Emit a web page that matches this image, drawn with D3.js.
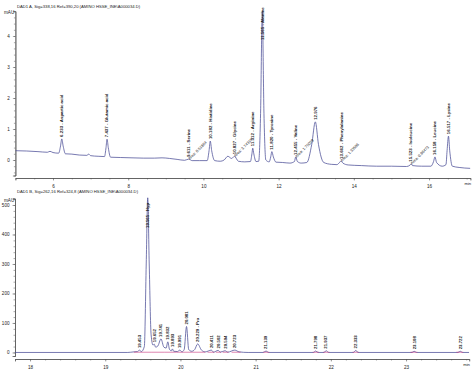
<!DOCTYPE html>
<html>
<head>
<meta charset="utf-8">
<script src="https://cdn.jsdelivr.net/npm/d3@7"></script>
<style>
  body { margin: 0; background: #fff; }
  svg { display: block; font-family: "Liberation Sans", Arial, sans-serif; }
  text { fill: #222; }
</style>
</head>
<body>
<svg></svg>
<script>
const width = 474;
const height = 375;

// ---- top signal (DAD1 A) ----
const topTitle = "DAD1 A, Sig=338,16 Ref=390,20 (AMINO HSSE_INE\\A000034.D)";
const topTimes = [5.00,5.30,5.60,5.85,5.92,6.00,6.15,6.20,6.233,6.27,6.33,6.50,6.70,6.90,6.95,7.00,7.20,7.37,7.41,7.437,7.47,7.53,7.80,8.10,8.40,8.70,8.90,9.10,9.30,9.50,9.611,9.70,9.90,10.10,10.15,10.182,10.22,10.30,10.45,10.55,10.65,10.75,10.827,10.93,11.10,11.25,11.29,11.312,11.34,11.40,11.47,11.52,11.565,11.61,11.66,11.75,11.79,11.82,11.86,11.93,12.10,12.30,12.42,12.455,12.50,12.60,12.75,12.88,12.976,13.06,13.20,13.40,13.55,13.62,13.662,13.71,13.85,14.20,14.60,15.00,15.40,15.49,15.523,15.56,15.80,16.05,16.12,16.158,16.20,16.35,16.45,16.48,16.517,16.55,16.62,16.80,17.10];
const topValues = [0.30,0.29,0.27,0.25,0.28,0.24,0.22,0.45,0.68,0.45,0.20,0.19,0.16,0.15,0.19,0.14,0.12,0.11,0.40,0.67,0.40,0.09,0.08,0.07,0.06,0.06,0.07,0.05,0.02,-0.01,0.03,-0.02,-0.02,-0.02,0.30,0.61,0.30,-0.02,-0.04,0.00,0.12,0.05,0.12,-0.04,-0.06,-0.05,0.20,0.38,0.20,-0.05,-0.04,1.50,4.80,1.50,0.00,-0.06,0.10,0.27,0.10,-0.07,-0.08,-0.10,-0.05,0.10,-0.05,-0.10,-0.08,0.50,1.23,0.50,-0.08,-0.14,-0.15,-0.08,-0.03,-0.10,-0.16,-0.18,-0.20,-0.20,-0.21,-0.17,-0.12,-0.18,-0.20,-0.20,-0.05,0.10,-0.08,-0.20,-0.15,0.30,0.77,0.30,-0.20,-0.24,-0.27];
const topPeakTimes = [6.233,7.437,9.611,10.182,10.827,11.312,11.565,11.82,12.455,12.976,13.662,15.523,16.158,16.517];
const topPeakLabels = ["6.233 - Aspartic acid","7.437 - Glutamic acid","9.611 - Serine","10.182 - Histidine","10.827 - Glycine","11.312 - Arginine","11.565 - Alanine","11.820 - Tyrosine","12.455 - Valine","12.976","13.662 - Phenylalanine","15.523 - Isoleucine","16.158 - Leucine","16.517 - Lysine"];
const topAreaTimes = [9.611,10.827,12.455,13.662,15.523];
const topAreaLabels = ["Area: 0.51864","Area: 3.74315","Area: 1.75029","Area: 1.33586","Area: 0.86473"];
const topYTicks = [0,1,2,3,4];
const topXTicks = [6,8,10,12,14,16];

// ---- bottom signal (DAD1 B) ----
const botTitle = "DAD1 B, Sig=262,16 Ref=324,8 (AMINO HSSE_INE\\A000034.D)";
const botTimes = [17.80,19.30,19.38,19.43,19.453,19.48,19.52,19.545,19.565,19.585,19.61,19.635,19.652,19.67,19.70,19.741,19.78,19.81,19.832,19.855,19.88,19.893,19.91,19.96,19.991,20.02,20.05,20.081,20.11,20.15,20.19,20.229,20.28,20.33,20.411,20.44,20.502,20.53,20.594,20.63,20.723,20.78,20.90,21.10,21.139,21.17,21.77,21.798,21.83,21.91,21.937,21.97,22.30,22.333,22.36,23.08,23.108,23.14,23.69,23.722,23.75,23.84];
const botValues = [0,0,2,3,8,3,20,300,525,300,60,25,28,18,22,46,18,15,36,10,6,12,4,3,8,2,10,88,10,4,10,29,8,2,8,1,7,1,6,1,8,2,0,0,5,0,0,5,0,0,6,0,0,7,0,0,4,0,0,4,0,0];
const botPeakTimes = [19.453,19.565,19.652,19.741,19.832,19.893,19.991,20.081,20.229,20.411,20.502,20.594,20.723,21.139,21.798,21.937,22.333,23.108,23.722];
const botPeakLabels = ["19.453","19.565 - Hyp","19.652","19.741","19.832","19.893","19.991","20.081","20.229 - Pro","20.411","20.502","20.594","20.723","21.139","21.798","21.937","22.333","23.108","23.722"];
const botBaseStart = [19.38,19.62,19.79,19.95,20.03,20.16,20.36,20.47,20.56,20.68,21.10,21.76,21.90,22.29,23.06,23.67];
const botBaseEnd = [19.62,19.79,19.95,20.03,20.16,20.33,20.45,20.54,20.64,20.80,21.18,21.84,21.98,22.37,23.15,23.76];
const botYTicks = [0,100,200,300,400,500];
const botXTicks = [18,19,20,21,22,23];

const traceColor = "#4a4c96";
const baseColor = "#c8327a";

let svg = d3.select("svg").attr("width", width).attr("height", height);

// draws one chromatogram panel
let panel = ({title, times, values, peakTimes, peakLabels, yDomain, yRange, xDomain, xRange,
              axisY, yTicks, yMinor, xTicks, xMinor, titleY, clipId, labelMinY, labelSize}) => {
    let x = d3.scaleLinear().domain(xDomain).range(xRange);
    let y = d3.scaleLinear().domain(yDomain).range(yRange);
    let g = svg.append("g");

    g.append("text").attr("x", 17).attr("y", titleY)
        .attr("font-size", 4.2).text(title);

    // y axis, major + minor ticks
    let minorY = d3.range(Math.ceil(yDomain[0] / yMinor), Math.floor(yDomain[1] / yMinor) + 1)
        .map(k => +(k * yMinor).toFixed(3));
    let ya = g.append("g").attr("transform", `translate(${xRange[0]},0)`)
        .call(d3.axisLeft(y).tickValues(yTicks).tickSize(2.5).tickFormat(d3.format("d")));
    ya.append("g").call(d3.axisLeft(y).tickValues(minorY).tickSize(1.5).tickFormat(""));
    ya.selectAll(".domain").attr("stroke", "#555").attr("stroke-width", 0.7);
    ya.selectAll(".tick line").attr("stroke", "#555").attr("stroke-width", 0.5);
    ya.selectAll(".tick text").attr("font-size", 4.6).attr("fill", "#222");
    g.append("text").attr("x", 4).attr("y", yRange[1] + 3).attr("font-size", 4.6).text("mAU");

    // x axis
    let minorX = d3.range(Math.ceil(xDomain[0] / xMinor), Math.floor(xDomain[1] / xMinor) + 1)
        .map(k => +(k * xMinor).toFixed(3));
    let xa = g.append("g").attr("transform", `translate(0,${axisY})`)
        .call(d3.axisBottom(x).tickValues(xTicks).tickSize(2.5).tickFormat(d3.format("d")));
    xa.append("g").call(d3.axisBottom(x).tickValues(minorX).tickSize(1.5).tickFormat(""));
    xa.selectAll(".domain").attr("stroke", "#555").attr("stroke-width", 0.7);
    xa.selectAll(".tick line").attr("stroke", "#555").attr("stroke-width", 0.5);
    xa.selectAll(".tick text").attr("font-size", 4.6).attr("fill", "#222").attr("dy", "0.9em");
    g.append("text").attr("x", xRange[1] - 6).attr("y", axisY + 7).attr("font-size", 4.2).text("min");

    // trace, clipped to the plot
    svg.append("clipPath").attr("id", clipId).append("rect")
        .attr("x", xRange[0]).attr("y", yRange[1] - 1)
        .attr("width", xRange[1] - xRange[0]).attr("height", axisY - yRange[1] + 1);
    let line = d3.line().x(d => x(d[0])).y(d => y(d[1])).curve(d3.curveMonotoneX);
    g.append("path").datum(times.map((t, i) => [t, values[i]]))
        .attr("clip-path", `url(#${clipId})`)
        .attr("fill", "none").attr("stroke", traceColor).attr("stroke-width", 0.75)
        .attr("d", line);

    // vertical peak labels
    g.selectAll("text.peak").data(peakTimes).enter().append("text")
        .attr("class", "peak")
        .attr("transform", t => {
            let i = times.indexOf(t);
            let yy = Math.max(y(values[i]) - 2, labelMinY);
            return `translate(${x(t) + 1.4},${yy}) rotate(-90)`;
        })
        .attr("font-size", labelSize).attr("font-weight", "bold").attr("fill", "#111")
        .text((t, i) => peakLabels[i]);

    return {x, y, g};
};

let topPanel = panel({
    title: topTitle, times: topTimes, values: topValues,
    peakTimes: topPeakTimes, peakLabels: topPeakLabels,
    yDomain: [-0.5, 4.8], yRange: [175.5, 11.2],
    xDomain: [5, 17.1], xRange: [15.4, 470.4],
    axisY: 178, yTicks: topYTicks, yMinor: 0.2, xTicks: topXTicks, xMinor: 0.5,
    titleY: 8, clipId: "clipTop", labelMinY: 40, labelSize: 4.4
});

// diagonal area labels in top panel
topPanel.g.selectAll("text.area").data(topAreaTimes).enter().append("text")
    .attr("class", "area")
    .attr("transform", t => {
        let i = topTimes.indexOf(t);
        return `translate(${topPanel.x(t) + 1},${topPanel.y(topValues[i]) + 1}) rotate(-45)`;
    })
    .attr("font-size", 3.9).attr("fill", "#111").text((t, i) => topAreaLabels[i]);

let botPanel = panel({
    title: botTitle, times: botTimes, values: botValues,
    peakTimes: botPeakTimes, peakLabels: botPeakLabels,
    yDomain: [-12, 522], yRange: [356, 198.5],
    xDomain: [17.8, 23.84], xRange: [15, 469.2],
    axisY: 359, yTicks: botYTicks, yMinor: 20, xTicks: botXTicks, xMinor: 0.2,
    titleY: 192.5, clipId: "clipBot", labelMinY: 228, labelSize: 4.3
});

// integration baselines
botPanel.g.selectAll("line.base").data(botBaseStart).enter().append("line")
    .attr("class", "base")
    .attr("x1", t => botPanel.x(t)).attr("x2", (t, i) => botPanel.x(botBaseEnd[i]))
    .attr("y1", botPanel.y(0.8)).attr("y2", botPanel.y(0.8))
    .attr("stroke", baseColor).attr("stroke-width", 0.6);
</script>
</body>
</html>
